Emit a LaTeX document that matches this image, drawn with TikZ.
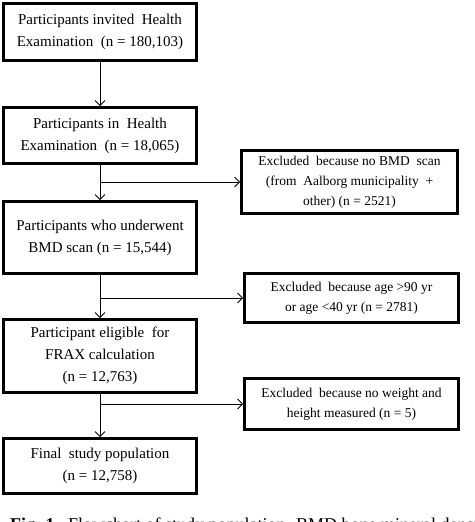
\documentclass[tikz,border=0pt]{standalone}
\usepackage{fontspec}
\setmainfont{Liberation Serif}
\usetikzlibrary{arrows.meta}
\begin{document}
\begin{tikzpicture}[x=1pt,y=-1pt,
  mainbox/.style={draw, line width=2.6pt, minimum width=193pt, align=center, inner sep=0pt,
    font=\fontsize{15}{22}\selectfont},
  exbox/.style={draw, line width=2.6pt, align=center, inner sep=0pt,
    font=\fontsize{13.5}{20}\selectfont},
  arr/.style={line width=0.9pt, -{Straight Barb[length=5pt,width=10pt]}}]
\clip (0,0) rectangle (474,522);
\useasboundingbox (0,0) rectangle (474,522);
\node[mainbox, minimum height=57pt] (b1) at (100,32) {Participants invited\ \ Health\\Examination\ \ (n = 180,103)};
\node[mainbox, minimum height=56pt] (b2) at (100,135.5) {Participants in\ \ Health\\Examination\ \ (n = 18,065)};
\node[mainbox, minimum height=72pt] (b3) at (100,237.5) {Participants who underwent\\BMD scan (n = 15,544)};
\node[mainbox, minimum height=73pt] (b4) at (100,356) {Participant eligible\ \ for\\FRAX calculation\\(n = 12,763)};
\node[mainbox, minimum height=55pt] (b5) at (100,466) {Final\ \ study population\\(n = 12,758)};
\node[exbox, minimum width=216pt, minimum height=63pt] (e1) at (349.5,182) {Excluded\ \ because no BMD\ \ scan\\(from\ \ Aalborg municipality\ \ +\\other) (n = 2521)};
\node[exbox, minimum width=214pt, minimum height=49pt] (e2) at (351.5,298) {Excluded\ \ because age >90 yr\\or age <40 yr (n = 2781)};
\node[exbox, minimum width=214pt, minimum height=51pt] (e3) at (351.5,404) {Excluded\ \ because no weight and\\height measured (n = 5)};
\draw[arr] (b1) -- (b2);
\draw[arr] (b2) -- (b3);
\draw[arr] (b3) -- (b4);
\draw[arr] (b4) -- (b5);
\draw[arr] (e1.west -| b2.south) -- (e1.west);
\draw[arr] (e2.west -| b3.south) -- (e2.west);
\draw[arr] (e3.west -| b4.south) -- (e3.west);
\node[anchor=base west, inner sep=0pt, font=\fontsize{18}{20}\selectfont] (cap) at (10,530)
  {\textbf{Fig. 1}\ \ \ Flowchart of study population. BMD bone mineral density};
\end{tikzpicture}
\end{document}
